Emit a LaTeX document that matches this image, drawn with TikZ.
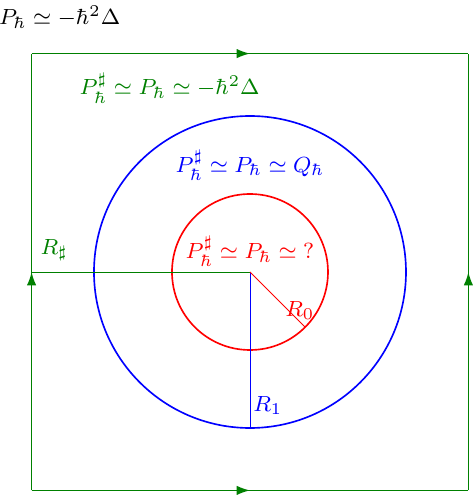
\documentclass[tikz,border=0pt]{standalone}
\usetikzlibrary{arrows.meta,decorations.markings}
\colorlet{darkgreen}{green!50!black}

\begin{document}
\begin{tikzpicture}[
every node/.style={font=\fontsize{8.3}{10}\selectfont},
squareline/.style={draw=darkgreen, line width=0.5pt},
midarrow/.style={postaction={decorate}, decoration={markings, mark=at position 0.5 with {\arrow[darkgreen]{Latex[length=1.7mm,width=1.2mm]}}}},
circleline/.style={semithick},
radiusline/.style={line width=0.3pt},
]
\useasboundingbox (-3.205,-2.859) rectangle (2.872,3.487);

%Coordinates
%%% Centro y esquinas
\coordinate (centro) at (0,0);
\coordinate (abajoIzq) at (-2.8,-2.8);
\coordinate (abajoDer) at (2.8,-2.8);
\coordinate (arribaIzq) at (-2.8,2.8);
\coordinate (arribaDer) at (2.8,2.8);
\coordinate (izq) at (-2.8,0);
\coordinate (rojoBorde) at (-45:1);
\coordinate (azulBorde) at (0,-2);

%Lines
%%% Cuadrado
\draw[squareline, midarrow] (abajoIzq) -- (arribaIzq);
\draw[squareline, midarrow] (arribaIzq) -- (arribaDer);
\draw[squareline, midarrow] (abajoIzq) -- (abajoDer);
\draw[squareline, midarrow] (abajoDer) -- (arribaDer);

%%% Circulos
\draw[circleline, blue] (centro) circle (2);
\draw[circleline, red] (centro) circle (1);

%%% Radios
\draw[radiusline, darkgreen] (izq) -- (centro);
\draw[radiusline, blue] (centro) -- (azulBorde);
\draw[radiusline, red] (centro) -- (rojoBorde);

%Labels
\node (exterior) at (-2.44,3.27) {$P_\hbar \simeq -\hbar^2\Delta$};
\node[darkgreen] (verde) at (-1.03,2.36) {$P_\hbar^\sharp \simeq P_\hbar \simeq -\hbar^2\Delta$};
\node[blue] (azul) at (0,1.37) {$P_\hbar^\sharp \simeq P_\hbar \simeq Q_\hbar$};
\node[red] (rojo) at (0,0.26) {$P_\hbar^\sharp \simeq P_\hbar \simeq {?}$};
\node[darkgreen] (rSharp) at (-2.51,0.28) {$R_\sharp$};
\node[red] (rCero) at (0.64,-0.49) {$R_0$};
\node[blue] (rUno) at (0.23,-1.71) {$R_1$};

\end{tikzpicture}
\end{document}
